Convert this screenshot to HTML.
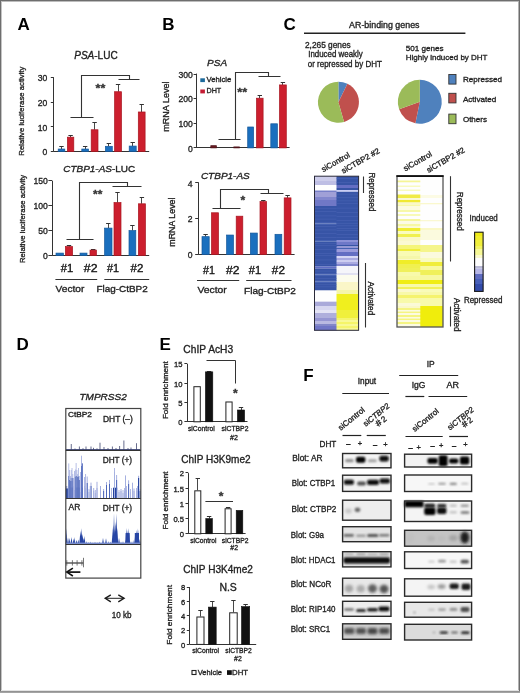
<!DOCTYPE html>
<html><head><meta charset="utf-8"><title>Figure</title>
<style>html,body{margin:0;padding:0;background:#fff;} svg{display:block;filter:blur(0.3px);} text{font-family:"Liberation Sans",Arial,sans-serif;}</style>
</head><body>
<svg width="520" height="693" viewBox="0 0 520 693">
<rect width="520" height="693" fill="#fff"/>
<text x="17.6" y="30" font-size="17" font-weight="bold" fill="#000">A</text>
<text x="162.3" y="29.8" font-size="17" font-weight="bold" fill="#000">B</text>
<text x="283.6" y="30.2" font-size="17" font-weight="bold" fill="#000">C</text>
<text x="16.5" y="350.2" font-size="17" font-weight="bold" fill="#000">D</text>
<text x="159.6" y="350.3" font-size="17" font-weight="bold" fill="#000">E</text>
<text x="303.2" y="381.2" font-size="17" font-weight="bold" fill="#000">F</text>
<text x="74.19" y="58.5" font-size="10.1" textLength="43.51" lengthAdjust="spacingAndGlyphs" fill="#222" stroke="#222" stroke-width="0.32"><tspan font-style="italic">PSA</tspan>-LUC</text>
<line x1="53.5" y1="77.4" x2="53.5" y2="151.5" stroke="#333" stroke-width="1"/>
<line x1="50.8" y1="77.5" x2="53.8" y2="77.5" stroke="#333" stroke-width="1"/>
<text x="47.35" y="81.18" font-size="8.6" text-anchor="end" fill="#222" stroke="#222" stroke-width="0.32">30</text>
<line x1="50.8" y1="102.5" x2="53.8" y2="102.5" stroke="#333" stroke-width="1"/>
<text x="47.35" y="105.88" font-size="8.6" text-anchor="end" fill="#222" stroke="#222" stroke-width="0.32">20</text>
<line x1="50.8" y1="126.5" x2="53.8" y2="126.5" stroke="#333" stroke-width="1"/>
<text x="47.35" y="130.58" font-size="8.6" text-anchor="end" fill="#222" stroke="#222" stroke-width="0.32">10</text>
<line x1="50.8" y1="151.5" x2="53.8" y2="151.5" stroke="#333" stroke-width="1"/>
<text x="47.35" y="155.28" font-size="8.6" text-anchor="end" fill="#222" stroke="#222" stroke-width="0.32">0</text>
<line x1="53.8" y1="151.5" x2="149.2" y2="151.5" stroke="#333" stroke-width="1"/>
<line x1="61.5" y1="146.56" x2="61.5" y2="149.03" stroke="#333" stroke-width="0.9"/>
<line x1="59.3" y1="146.5" x2="63.7" y2="146.5" stroke="#333" stroke-width="1.0"/>
<rect x="58.2" y="149.03" width="6.599999999999994" height="2.469999999999999" fill="#1a6fbe" stroke="#14579a" stroke-width="0.7"/>
<line x1="70.5" y1="135.198" x2="70.5" y2="137.174" stroke="#333" stroke-width="0.9"/>
<line x1="68.39999999999999" y1="135.5" x2="72.8" y2="135.5" stroke="#333" stroke-width="1.0"/>
<rect x="67.4" y="137.174" width="6.3999999999999915" height="14.325999999999993" fill="#cc1f2e" stroke="#a8141f" stroke-width="0.7"/>
<line x1="85.5" y1="146.313" x2="85.5" y2="149.03" stroke="#333" stroke-width="0.9"/>
<line x1="82.95" y1="146.5" x2="87.35000000000001" y2="146.5" stroke="#333" stroke-width="1.0"/>
<rect x="81.8" y="149.03" width="6.700000000000003" height="2.469999999999999" fill="#1a6fbe" stroke="#14579a" stroke-width="0.7"/>
<line x1="94.5" y1="122.107" x2="94.5" y2="129.764" stroke="#333" stroke-width="0.9"/>
<line x1="92.39999999999999" y1="122.5" x2="96.8" y2="122.5" stroke="#333" stroke-width="1.0"/>
<rect x="91.2" y="129.764" width="6.799999999999997" height="21.73599999999999" fill="#cc1f2e" stroke="#a8141f" stroke-width="0.7"/>
<line x1="108.5" y1="143.349" x2="108.5" y2="146.313" stroke="#333" stroke-width="0.9"/>
<line x1="106.64999999999999" y1="143.5" x2="111.05" y2="143.5" stroke="#333" stroke-width="1.0"/>
<rect x="105.4" y="146.313" width="6.8999999999999915" height="5.187000000000012" fill="#1a6fbe" stroke="#14579a" stroke-width="0.7"/>
<line x1="118.5" y1="84.56299999999999" x2="118.5" y2="91.726" stroke="#333" stroke-width="0.9"/>
<line x1="115.85" y1="84.5" x2="120.25" y2="84.5" stroke="#333" stroke-width="1.0"/>
<rect x="114.6" y="91.726" width="6.900000000000006" height="59.774" fill="#cc1f2e" stroke="#a8141f" stroke-width="0.7"/>
<line x1="132.5" y1="142.608" x2="132.5" y2="146.066" stroke="#333" stroke-width="0.9"/>
<line x1="130.5" y1="142.5" x2="134.89999999999998" y2="142.5" stroke="#333" stroke-width="1.0"/>
<rect x="129.2" y="146.066" width="7.0" height="5.4339999999999975" fill="#1a6fbe" stroke="#14579a" stroke-width="0.7"/>
<line x1="141.5" y1="104.57" x2="141.5" y2="111.97999999999999" stroke="#333" stroke-width="0.9"/>
<line x1="139.5" y1="104.5" x2="143.89999999999998" y2="104.5" stroke="#333" stroke-width="1.0"/>
<rect x="138.3" y="111.97999999999999" width="6.799999999999983" height="39.52000000000001" fill="#cc1f2e" stroke="#a8141f" stroke-width="0.7"/>
<path d="M70.5,117.5 H93.5 M81.5,117.5 V75.5 H129.5 V79.5 M118.5,79.5 H139.5" stroke="#333" stroke-width="1.1" fill="none"/>
<text x="95.54" y="91.6" font-size="11" textLength="9.72" lengthAdjust="spacingAndGlyphs" fill="#333" stroke="#333" stroke-width="0.32" font-weight="bold">**</text>
<text transform="translate(24.30,155.67) rotate(-90)" font-size="7.8" textLength="89.04" lengthAdjust="spacingAndGlyphs" fill="#222" stroke="#222" stroke-width="0.32">Relative luciferase activity</text>
<text x="63.22" y="171.5" font-size="9.6" textLength="71.95" lengthAdjust="spacingAndGlyphs" fill="#222" stroke="#222" stroke-width="0.32"><tspan font-style="italic">CTBP1-AS</tspan>-LUC</text>
<line x1="52.5" y1="180.8" x2="52.5" y2="255.6" stroke="#333" stroke-width="1"/>
<line x1="48.400000000000006" y1="180.5" x2="52.2" y2="180.5" stroke="#333" stroke-width="1"/>
<text x="47.75" y="184.38" font-size="8.6" text-anchor="end" fill="#222" stroke="#222" stroke-width="0.32">150</text>
<line x1="48.400000000000006" y1="205.5" x2="52.2" y2="205.5" stroke="#333" stroke-width="1"/>
<text x="47.75" y="209.38" font-size="8.6" text-anchor="end" fill="#222" stroke="#222" stroke-width="0.32">100</text>
<line x1="48.400000000000006" y1="230.5" x2="52.2" y2="230.5" stroke="#333" stroke-width="1"/>
<text x="47.75" y="234.38" font-size="8.6" text-anchor="end" fill="#222" stroke="#222" stroke-width="0.32">50</text>
<line x1="48.400000000000006" y1="255.5" x2="52.2" y2="255.5" stroke="#333" stroke-width="1"/>
<text x="47.75" y="259.38" font-size="8.6" text-anchor="end" fill="#222" stroke="#222" stroke-width="0.32">0</text>
<line x1="52.2" y1="255.5" x2="149.2" y2="255.5" stroke="#333" stroke-width="1"/>
<rect x="56" y="253.1" width="7.399999999999999" height="2.5" fill="#1a6fbe" stroke="#14579a" stroke-width="0.7"/>
<line x1="69.5" y1="245.6" x2="69.5" y2="246.6" stroke="#333" stroke-width="0.9"/>
<line x1="66.8" y1="245.5" x2="71.2" y2="245.5" stroke="#333" stroke-width="1.0"/>
<rect x="65.4" y="246.6" width="7.199999999999989" height="9.0" fill="#cc1f2e" stroke="#a8141f" stroke-width="0.7"/>
<rect x="80" y="253.1" width="7" height="2.5" fill="#1a6fbe" stroke="#14579a" stroke-width="0.7"/>
<line x1="93.5" y1="249.1" x2="93.5" y2="250.1" stroke="#333" stroke-width="0.9"/>
<line x1="91.0" y1="249.5" x2="95.4" y2="249.5" stroke="#333" stroke-width="1.0"/>
<rect x="90" y="250.1" width="6.400000000000006" height="5.5" fill="#cc1f2e" stroke="#a8141f" stroke-width="0.7"/>
<line x1="108.5" y1="223.1" x2="108.5" y2="228.1" stroke="#333" stroke-width="0.9"/>
<line x1="106.1" y1="223.5" x2="110.5" y2="223.5" stroke="#333" stroke-width="1.0"/>
<rect x="104.6" y="228.1" width="7.400000000000006" height="27.5" fill="#1a6fbe" stroke="#14579a" stroke-width="0.7"/>
<line x1="117.5" y1="192.6" x2="117.5" y2="202.6" stroke="#333" stroke-width="0.9"/>
<line x1="115.3" y1="192.5" x2="119.7" y2="192.5" stroke="#333" stroke-width="1.0"/>
<rect x="114" y="202.6" width="7" height="53.0" fill="#cc1f2e" stroke="#a8141f" stroke-width="0.7"/>
<line x1="132.5" y1="225.1" x2="132.5" y2="230.6" stroke="#333" stroke-width="0.9"/>
<line x1="130.20000000000002" y1="225.5" x2="134.6" y2="225.5" stroke="#333" stroke-width="1.0"/>
<rect x="129" y="230.6" width="6.800000000000011" height="25.0" fill="#1a6fbe" stroke="#14579a" stroke-width="0.7"/>
<line x1="141.5" y1="197.1" x2="141.5" y2="203.8" stroke="#333" stroke-width="0.9"/>
<line x1="139.70000000000002" y1="197.5" x2="144.1" y2="197.5" stroke="#333" stroke-width="1.0"/>
<rect x="138.4" y="203.8" width="7.0" height="51.79999999999998" fill="#cc1f2e" stroke="#a8141f" stroke-width="0.7"/>
<path d="M66.5,239.5 H93.5 M79.5,239.5 V182.5 H127.5 V186.5 M112.5,186.5 H141.5" stroke="#333" stroke-width="1.1" fill="none"/>
<text x="93.14" y="197.8" font-size="11" textLength="9.32" lengthAdjust="spacingAndGlyphs" fill="#333" stroke="#333" stroke-width="0.32" font-weight="bold">**</text>
<text transform="translate(24.50,263.07) rotate(-90)" font-size="7.8" textLength="88.24" lengthAdjust="spacingAndGlyphs" fill="#222" stroke="#222" stroke-width="0.32">Relative luciferase activity</text>
<text x="60.87" y="272.3" font-size="10.5" textLength="12.46" lengthAdjust="spacingAndGlyphs" fill="#111" stroke="#111" stroke-width="0.32">#1</text>
<text x="83.87" y="272.3" font-size="10.5" textLength="13.66" lengthAdjust="spacingAndGlyphs" fill="#111" stroke="#111" stroke-width="0.32">#2</text>
<text x="107.07" y="272.3" font-size="10.5" textLength="12.06" lengthAdjust="spacingAndGlyphs" fill="#111" stroke="#111" stroke-width="0.32">#1</text>
<text x="130.57" y="272.3" font-size="10.5" textLength="12.76" lengthAdjust="spacingAndGlyphs" fill="#111" stroke="#111" stroke-width="0.32">#2</text>
<line x1="55.4" y1="279.5" x2="97.2" y2="279.5" stroke="#333" stroke-width="1.1"/>
<line x1="104.3" y1="279.5" x2="149.2" y2="279.5" stroke="#333" stroke-width="1.1"/>
<text x="55.62" y="292.2" font-size="9.6" textLength="28.75" lengthAdjust="spacingAndGlyphs" fill="#222" stroke="#222" stroke-width="0.32">Vector</text>
<text x="96.42" y="292.3" font-size="9.6" textLength="51.35" lengthAdjust="spacingAndGlyphs" fill="#222" stroke="#222" stroke-width="0.32">Flag-CtBP2</text>
<text x="207.11" y="65.7" font-size="9.8" textLength="19.98" lengthAdjust="spacingAndGlyphs" fill="#222" stroke="#222" stroke-width="0.32" font-style="italic">PSA</text>
<line x1="196.5" y1="73.6" x2="196.5" y2="147.9" stroke="#333" stroke-width="1"/>
<line x1="193.6" y1="74.5" x2="196.9" y2="74.5" stroke="#333" stroke-width="1"/>
<text x="192.85" y="77.88" font-size="8.6" text-anchor="end" fill="#222" stroke="#222" stroke-width="0.32">300</text>
<line x1="193.6" y1="98.5" x2="196.9" y2="98.5" stroke="#333" stroke-width="1"/>
<text x="192.85" y="102.48" font-size="8.6" text-anchor="end" fill="#222" stroke="#222" stroke-width="0.32">200</text>
<line x1="193.6" y1="123.5" x2="196.9" y2="123.5" stroke="#333" stroke-width="1"/>
<text x="192.85" y="127.08" font-size="8.6" text-anchor="end" fill="#222" stroke="#222" stroke-width="0.32">100</text>
<line x1="193.6" y1="147.5" x2="196.9" y2="147.5" stroke="#333" stroke-width="1"/>
<text x="192.85" y="151.68" font-size="8.6" text-anchor="end" fill="#222" stroke="#222" stroke-width="0.32">0</text>
<line x1="196.8" y1="147.5" x2="289.6" y2="147.5" stroke="#333" stroke-width="1"/>
<rect x="200.3" y="78.3" width="4.6" height="3.8" fill="#1c6a9c"/>
<text x="206.46" y="82.4" font-size="7.4" textLength="24.79" lengthAdjust="spacingAndGlyphs" fill="#222" stroke="#222" stroke-width="0.32">Vehicle</text>
<rect x="200.3" y="89.5" width="4.6" height="3.9" fill="#c41c34"/>
<text x="206.46" y="93.4" font-size="7.4" textLength="14.79" lengthAdjust="spacingAndGlyphs" fill="#222" stroke="#222" stroke-width="0.32">DHT</text>
<rect x="210.8" y="145.686" width="5.599999999999994" height="2.2139999999999986" fill="#6a1a22" stroke="#4a1015" stroke-width="0.7"/>
<rect x="233.8" y="146.916" width="5.599999999999994" height="0.9840000000000089" fill="#6a1a22" stroke="#4a1015" stroke-width="0.7"/>
<rect x="247.7" y="126.99000000000001" width="5.900000000000006" height="20.909999999999997" fill="#1a6fbe" stroke="#14579a" stroke-width="0.7"/>
<line x1="259.5" y1="95.994" x2="259.5" y2="98.208" stroke="#333" stroke-width="0.9"/>
<line x1="257.6" y1="95.5" x2="262.0" y2="95.5" stroke="#333" stroke-width="1.0"/>
<rect x="256.5" y="98.208" width="6.600000000000023" height="49.69200000000001" fill="#cc1f2e" stroke="#a8141f" stroke-width="0.7"/>
<rect x="270.8" y="123.792" width="6.599999999999966" height="24.108000000000004" fill="#1a6fbe" stroke="#14579a" stroke-width="0.7"/>
<line x1="282.5" y1="82.71" x2="282.5" y2="84.924" stroke="#333" stroke-width="0.9"/>
<line x1="280.7" y1="82.5" x2="285.09999999999997" y2="82.5" stroke="#333" stroke-width="1.0"/>
<rect x="279.5" y="84.924" width="6.800000000000011" height="62.976" fill="#cc1f2e" stroke="#a8141f" stroke-width="0.7"/>
<path d="M218.5,139.5 H240.5 M235.5,139.5 V72.5 H268.5 V76.5 M258.5,76.5 H280.5" stroke="#333" stroke-width="1.1" fill="none"/>
<text x="237.34" y="96.3" font-size="11" textLength="9.92" lengthAdjust="spacingAndGlyphs" fill="#333" stroke="#333" stroke-width="0.32" font-weight="bold">**</text>
<text transform="translate(169.00,131.70) rotate(-90)" font-size="8.4" textLength="50.21" lengthAdjust="spacingAndGlyphs" fill="#222" stroke="#222" stroke-width="0.32">mRNA Level</text>
<text x="200.92" y="179.4" font-size="9.6" textLength="48.85" lengthAdjust="spacingAndGlyphs" fill="#222" stroke="#222" stroke-width="0.32" font-style="italic">CTBP1-AS</text>
<line x1="198.5" y1="182.8" x2="198.5" y2="254.6" stroke="#333" stroke-width="1"/>
<line x1="195.20000000000002" y1="182.5" x2="198.8" y2="182.5" stroke="#333" stroke-width="1"/>
<text x="192.55" y="186.58" font-size="8.6" text-anchor="end" fill="#222" stroke="#222" stroke-width="0.32">4</text>
<line x1="195.20000000000002" y1="218.5" x2="198.8" y2="218.5" stroke="#333" stroke-width="1"/>
<text x="192.55" y="222.48" font-size="8.6" text-anchor="end" fill="#222" stroke="#222" stroke-width="0.32">2</text>
<line x1="195.20000000000002" y1="254.5" x2="198.8" y2="254.5" stroke="#333" stroke-width="1"/>
<text x="192.55" y="258.38" font-size="8.6" text-anchor="end" fill="#222" stroke="#222" stroke-width="0.32">0</text>
<line x1="198.8" y1="254.5" x2="294.6" y2="254.5" stroke="#333" stroke-width="1"/>
<line x1="205.5" y1="234.855" x2="205.5" y2="236.65" stroke="#333" stroke-width="0.9"/>
<line x1="203.4" y1="234.5" x2="207.79999999999998" y2="234.5" stroke="#333" stroke-width="1.0"/>
<rect x="202" y="236.65" width="7.199999999999989" height="17.94999999999999" fill="#1a6fbe" stroke="#14579a" stroke-width="0.7"/>
<rect x="211.5" y="212.7765" width="7.0" height="41.823499999999996" fill="#cc1f2e" stroke="#a8141f" stroke-width="0.7"/>
<rect x="226.6" y="235.03449999999998" width="6.900000000000006" height="19.565500000000014" fill="#1a6fbe" stroke="#14579a" stroke-width="0.7"/>
<rect x="236.2" y="216.18699999999998" width="6.600000000000023" height="38.41300000000001" fill="#cc1f2e" stroke="#a8141f" stroke-width="0.7"/>
<rect x="250.4" y="233.06" width="6.900000000000006" height="21.539999999999992" fill="#1a6fbe" stroke="#14579a" stroke-width="0.7"/>
<line x1="263.5" y1="200.75" x2="263.5" y2="201.64749999999998" stroke="#333" stroke-width="0.9"/>
<line x1="261.1" y1="200.5" x2="265.5" y2="200.5" stroke="#333" stroke-width="1.0"/>
<rect x="260" y="201.64749999999998" width="6.600000000000023" height="52.952500000000015" fill="#cc1f2e" stroke="#a8141f" stroke-width="0.7"/>
<rect x="275" y="234.3165" width="6.800000000000011" height="20.283500000000004" fill="#1a6fbe" stroke="#14579a" stroke-width="0.7"/>
<line x1="287.5" y1="195.365" x2="287.5" y2="197.878" stroke="#333" stroke-width="0.9"/>
<line x1="285.40000000000003" y1="195.5" x2="289.8" y2="195.5" stroke="#333" stroke-width="1.0"/>
<rect x="284.2" y="197.878" width="6.800000000000011" height="56.72200000000001" fill="#cc1f2e" stroke="#a8141f" stroke-width="0.7"/>
<path d="M212.5,208.5 H240.5 M220.5,208.5 V189.5 H268.5 V193.5 M260.5,193.5 H283.5" stroke="#333" stroke-width="1.1" fill="none"/>
<text x="240.54" y="203.9" font-size="11" textLength="4.72" lengthAdjust="spacingAndGlyphs" fill="#333" stroke="#333" stroke-width="0.32" font-weight="bold">*</text>
<text transform="translate(175.30,246.69) rotate(-90)" font-size="8.2" textLength="49.18" lengthAdjust="spacingAndGlyphs" fill="#222" stroke="#222" stroke-width="0.32">mRNA Level</text>
<text x="203.07" y="273.5" font-size="10.5" textLength="11.86" lengthAdjust="spacingAndGlyphs" fill="#111" stroke="#111" stroke-width="0.32">#1</text>
<text x="226.07" y="273.5" font-size="10.5" textLength="13.46" lengthAdjust="spacingAndGlyphs" fill="#111" stroke="#111" stroke-width="0.32">#2</text>
<text x="248.87" y="273.5" font-size="10.5" textLength="12.26" lengthAdjust="spacingAndGlyphs" fill="#111" stroke="#111" stroke-width="0.32">#1</text>
<text x="271.87" y="273.5" font-size="10.5" textLength="13.06" lengthAdjust="spacingAndGlyphs" fill="#111" stroke="#111" stroke-width="0.32">#2</text>
<line x1="197" y1="280.5" x2="239.2" y2="280.5" stroke="#333" stroke-width="1.1"/>
<line x1="246.2" y1="280.5" x2="291.5" y2="280.5" stroke="#333" stroke-width="1.1"/>
<text x="197.42" y="293.2" font-size="9.6" textLength="29.35" lengthAdjust="spacingAndGlyphs" fill="#222" stroke="#222" stroke-width="0.32">Vector</text>
<text x="244.02" y="293.6" font-size="9.6" textLength="51.95" lengthAdjust="spacingAndGlyphs" fill="#222" stroke="#222" stroke-width="0.32">Flag-CtBP2</text>
<text x="349.09" y="27.8" font-size="8.5" textLength="70.42" lengthAdjust="spacingAndGlyphs" fill="#222" stroke="#222" stroke-width="0.32">AR-binding genes</text>
<line x1="304" y1="33.2" x2="465.4" y2="33.2" stroke="#222" stroke-width="1.4"/>
<text x="305.00" y="47.6" font-size="8.3" textLength="45.70" lengthAdjust="spacingAndGlyphs" fill="#222" stroke="#222" stroke-width="0.32">2,265 genes</text>
<text x="308.20" y="57.1" font-size="8.3" textLength="54.60" lengthAdjust="spacingAndGlyphs" fill="#222" stroke="#222" stroke-width="0.32">Induced weakly</text>
<text x="307.80" y="66.5" font-size="8.3" textLength="74.00" lengthAdjust="spacingAndGlyphs" fill="#222" stroke="#222" stroke-width="0.32">or repressed by DHT</text>
<text x="405.72" y="50.8" font-size="8" textLength="37.76" lengthAdjust="spacingAndGlyphs" fill="#222" stroke="#222" stroke-width="0.32">501 genes</text>
<text x="405.72" y="60.0" font-size="8" textLength="81.76" lengthAdjust="spacingAndGlyphs" fill="#222" stroke="#222" stroke-width="0.32">Highly induced by DHT</text>
<path d="M338.4,102.2 L338.40,81.70 A20.5,20.5 0 0 1 347.39,83.77 Z" fill="#4f81bd"/>
<path d="M338.4,102.2 L347.39,83.77 A20.5,20.5 0 0 1 344.05,121.91 Z" fill="#c0504d"/>
<path d="M338.4,102.2 L344.05,121.91 A20.5,20.5 0 1 1 338.40,81.70 Z" fill="#9bbb59"/>
<path d="M419.8,101.8 L419.80,79.80 A22,22 0 1 1 415.41,123.36 Z" fill="#4f81bd"/>
<path d="M419.8,101.8 L415.41,123.36 A22,22 0 0 1 399.13,109.32 Z" fill="#c0504d"/>
<path d="M419.8,101.8 L399.13,109.32 A22,22 0 0 1 419.80,79.80 Z" fill="#9bbb59"/>
<rect x="448.8" y="74.5" width="7.2" height="9.6" fill="#4f81bd" stroke="#333" stroke-width="0.9"/>
<text x="462.92" y="82.3" font-size="8" textLength="39.06" lengthAdjust="spacingAndGlyphs" fill="#222" stroke="#222" stroke-width="0.32">Repressed</text>
<rect x="448.8" y="93.3" width="7.2" height="9.6" fill="#c0504d" stroke="#333" stroke-width="0.9"/>
<text x="462.92" y="102.3" font-size="8" textLength="33.26" lengthAdjust="spacingAndGlyphs" fill="#222" stroke="#222" stroke-width="0.32">Activated</text>
<rect x="448.8" y="114.1" width="7.2" height="9.6" fill="#9bbb59" stroke="#333" stroke-width="0.9"/>
<text x="462.92" y="122.3" font-size="8" textLength="24.06" lengthAdjust="spacingAndGlyphs" fill="#222" stroke="#222" stroke-width="0.32">Others</text>
<rect x="314.5" y="176.2" width="22.70" height="4.85" fill="#cdcdeb"/>
<rect x="314.5" y="181" width="22.70" height="4.05" fill="#bebee4"/>
<rect x="314.5" y="185" width="22.70" height="5.55" fill="#fefefe"/>
<rect x="314.5" y="190.5" width="22.70" height="1.55" fill="#7880c8"/>
<rect x="314.5" y="192" width="22.70" height="5.05" fill="#a0a0d7"/>
<rect x="314.5" y="197" width="22.70" height="3.05" fill="#8287cd"/>
<rect x="314.5" y="200" width="22.70" height="6.05" fill="#7078c6"/>
<rect x="314.5" y="206" width="22.70" height="17.55" fill="#3754a6"/>
<rect x="314.5" y="223.5" width="22.70" height="1.55" fill="#4662b2"/>
<rect x="314.5" y="225" width="22.70" height="15.05" fill="#3754a6"/>
<rect x="314.5" y="240" width="22.70" height="1.55" fill="#4662b2"/>
<rect x="314.5" y="241.5" width="22.70" height="25.05" fill="#3754a6"/>
<rect x="314.5" y="266.5" width="22.70" height="2.05" fill="#5f6cc3"/>
<rect x="314.5" y="268.5" width="22.70" height="6.05" fill="#3754a6"/>
<rect x="314.5" y="274.5" width="22.70" height="1.55" fill="#4662b2"/>
<rect x="314.5" y="276" width="22.70" height="5.55" fill="#3754a6"/>
<rect x="314.5" y="281.5" width="22.70" height="1.55" fill="#4662b2"/>
<rect x="314.5" y="283" width="22.70" height="7.55" fill="#3754a6"/>
<rect x="314.5" y="290.5" width="22.70" height="10.55" fill="#fefefe"/>
<rect x="314.5" y="301" width="22.70" height="1.05" fill="#e1e1f2"/>
<rect x="314.5" y="302" width="22.70" height="4.05" fill="#aaaada"/>
<rect x="314.5" y="306" width="22.70" height="4.05" fill="#d7d7f0"/>
<rect x="314.5" y="310" width="22.70" height="3.05" fill="#e4e4f5"/>
<rect x="314.5" y="313" width="22.70" height="5.05" fill="#afafdc"/>
<rect x="314.5" y="318" width="22.70" height="3.05" fill="#9696d2"/>
<rect x="314.5" y="321" width="22.70" height="3.05" fill="#b9b9e1"/>
<rect x="314.5" y="324" width="22.70" height="2.05" fill="#8287c8"/>
<rect x="314.5" y="326" width="22.70" height="4.35" fill="#7076c6"/>
<rect x="336.5" y="176.2" width="22.10" height="8.85" fill="#3754a6"/>
<rect x="336.5" y="185" width="22.10" height="3.05" fill="#646ec3"/>
<rect x="336.5" y="188" width="22.10" height="2.05" fill="#3754a6"/>
<rect x="336.5" y="190" width="22.10" height="1.85" fill="#c8cdf5"/>
<rect x="336.5" y="191.8" width="22.10" height="48.25" fill="#3754a6"/>
<rect x="336.5" y="240" width="22.10" height="2.05" fill="#8c91d7"/>
<rect x="336.5" y="242" width="22.10" height="3.05" fill="#6e78c8"/>
<rect x="336.5" y="245" width="22.10" height="1.55" fill="#3754a6"/>
<rect x="336.5" y="246.5" width="22.10" height="1.55" fill="#9696d7"/>
<rect x="336.5" y="248" width="22.10" height="1.05" fill="#4662b2"/>
<rect x="336.5" y="249" width="22.10" height="3.05" fill="#9b9bdc"/>
<rect x="336.5" y="252" width="22.10" height="4.05" fill="#646ec3"/>
<rect x="336.5" y="256" width="22.10" height="2.05" fill="#d7d7f5"/>
<rect x="336.5" y="258" width="22.10" height="2.05" fill="#aaaae1"/>
<rect x="336.5" y="260" width="22.10" height="2.05" fill="#cdcdf0"/>
<rect x="336.5" y="262" width="22.10" height="2.05" fill="#aaaae1"/>
<rect x="336.5" y="264" width="22.10" height="2.05" fill="#8287cd"/>
<rect x="336.5" y="266" width="22.10" height="7.05" fill="#f5f5fa"/>
<rect x="336.5" y="273" width="22.10" height="2.05" fill="#e1e1f2"/>
<rect x="336.5" y="275" width="22.10" height="7.05" fill="#fcfcee"/>
<rect x="336.5" y="282" width="22.10" height="8.05" fill="#faf6c8"/>
<rect x="336.5" y="290" width="22.10" height="4.05" fill="#f5f5aa"/>
<rect x="336.5" y="294" width="22.10" height="16.05" fill="#f0ef1e"/>
<rect x="336.5" y="310" width="22.10" height="8.05" fill="#f0f03c"/>
<rect x="336.5" y="318" width="22.10" height="2.05" fill="#f5f56e"/>
<rect x="336.5" y="320" width="22.10" height="2.05" fill="#f8f996"/>
<rect x="336.5" y="322" width="22.10" height="2.05" fill="#f5f569"/>
<rect x="336.5" y="324" width="22.10" height="2.05" fill="#f8f996"/>
<rect x="336.5" y="326" width="22.10" height="2.05" fill="#f5f56e"/>
<rect x="336.5" y="328" width="22.10" height="2.35" fill="#f8f996"/>
<rect x="314.5" y="207.90" width="22.00" height="0.6" fill="#4e68b8" opacity="0.8"/>
<rect x="314.5" y="211.30" width="22.00" height="0.6" fill="#4e68b8" opacity="0.8"/>
<rect x="314.5" y="215.61" width="22.00" height="0.6" fill="#4e68b8" opacity="0.8"/>
<rect x="314.5" y="218.78" width="22.00" height="0.6" fill="#4e68b8" opacity="0.8"/>
<rect x="314.5" y="222.05" width="22.00" height="0.6" fill="#4e68b8" opacity="0.8"/>
<rect x="314.5" y="226.37" width="22.00" height="0.6" fill="#4e68b8" opacity="0.8"/>
<rect x="314.5" y="229.65" width="22.00" height="0.6" fill="#4e68b8" opacity="0.8"/>
<rect x="314.5" y="233.22" width="22.00" height="0.6" fill="#4e68b8" opacity="0.8"/>
<rect x="314.5" y="237.21" width="22.00" height="0.6" fill="#4e68b8" opacity="0.8"/>
<rect x="314.5" y="243.11" width="22.00" height="0.6" fill="#4e68b8" opacity="0.8"/>
<rect x="314.5" y="245.33" width="22.00" height="0.6" fill="#4e68b8" opacity="0.8"/>
<rect x="314.5" y="249.36" width="22.00" height="0.6" fill="#4e68b8" opacity="0.8"/>
<rect x="314.5" y="253.09" width="22.00" height="0.6" fill="#4e68b8" opacity="0.8"/>
<rect x="314.5" y="255.20" width="22.00" height="0.6" fill="#4e68b8" opacity="0.8"/>
<rect x="314.5" y="259.65" width="22.00" height="0.6" fill="#4e68b8" opacity="0.8"/>
<rect x="314.5" y="264.06" width="22.00" height="0.6" fill="#4e68b8" opacity="0.8"/>
<rect x="314.5" y="270.73" width="22.00" height="0.6" fill="#4e68b8" opacity="0.8"/>
<rect x="314.5" y="273.12" width="22.00" height="0.6" fill="#4e68b8" opacity="0.8"/>
<rect x="314.5" y="278.06" width="22.00" height="0.6" fill="#4e68b8" opacity="0.8"/>
<rect x="314.5" y="280.21" width="22.00" height="0.6" fill="#4e68b8" opacity="0.8"/>
<rect x="314.5" y="284.48" width="22.00" height="0.6" fill="#4e68b8" opacity="0.8"/>
<rect x="314.5" y="286.56" width="22.00" height="0.6" fill="#4e68b8" opacity="0.8"/>
<rect x="336.5" y="178.08" width="22.10" height="0.6" fill="#4e68b8" opacity="0.8"/>
<rect x="336.5" y="182.19" width="22.10" height="0.6" fill="#4e68b8" opacity="0.8"/>
<rect x="336.5" y="193.80" width="22.10" height="0.6" fill="#4e68b8" opacity="0.8"/>
<rect x="336.5" y="197.46" width="22.10" height="0.6" fill="#4e68b8" opacity="0.8"/>
<rect x="336.5" y="200.60" width="22.10" height="0.6" fill="#4e68b8" opacity="0.8"/>
<rect x="336.5" y="203.29" width="22.10" height="0.6" fill="#4e68b8" opacity="0.8"/>
<rect x="336.5" y="207.79" width="22.10" height="0.6" fill="#4e68b8" opacity="0.8"/>
<rect x="336.5" y="212.28" width="22.10" height="0.6" fill="#4e68b8" opacity="0.8"/>
<rect x="336.5" y="216.38" width="22.10" height="0.6" fill="#4e68b8" opacity="0.8"/>
<rect x="336.5" y="220.15" width="22.10" height="0.6" fill="#4e68b8" opacity="0.8"/>
<rect x="336.5" y="222.94" width="22.10" height="0.6" fill="#4e68b8" opacity="0.8"/>
<rect x="336.5" y="225.51" width="22.10" height="0.6" fill="#4e68b8" opacity="0.8"/>
<rect x="336.5" y="228.23" width="22.10" height="0.6" fill="#4e68b8" opacity="0.8"/>
<rect x="336.5" y="230.41" width="22.10" height="0.6" fill="#4e68b8" opacity="0.8"/>
<rect x="336.5" y="234.32" width="22.10" height="0.6" fill="#4e68b8" opacity="0.8"/>
<rect x="336.5" y="237.33" width="22.10" height="0.6" fill="#4e68b8" opacity="0.8"/>
<rect x="314.5" y="176.2" width="44.1" height="154.1" fill="none" stroke="#2a2a3a" stroke-width="1.0"/>
<rect x="397" y="175.8" width="24.00" height="4.75" fill="#fefefe"/>
<rect x="397" y="180.5" width="24.00" height="2.05" fill="#f5f596"/>
<rect x="397" y="182.5" width="24.00" height="3.05" fill="#fefefe"/>
<rect x="397" y="185.5" width="24.00" height="1.55" fill="#f8fabe"/>
<rect x="397" y="187" width="24.00" height="2.55" fill="#fefefe"/>
<rect x="397" y="189.5" width="24.00" height="1.55" fill="#f8fabe"/>
<rect x="397" y="191" width="24.00" height="3.55" fill="#fefefe"/>
<rect x="397" y="194.5" width="24.00" height="3.55" fill="#f0eb46"/>
<rect x="397" y="198" width="24.00" height="2.05" fill="#faf8d2"/>
<rect x="397" y="200" width="24.00" height="2.55" fill="#f0e932"/>
<rect x="397" y="202.5" width="24.00" height="2.05" fill="#faf8c8"/>
<rect x="397" y="204.5" width="24.00" height="1.55" fill="#f7f8aa"/>
<rect x="397" y="206" width="24.00" height="4.05" fill="#fcfbe1"/>
<rect x="397" y="210" width="24.00" height="2.05" fill="#f7f8aa"/>
<rect x="397" y="212" width="24.00" height="2.05" fill="#fefefe"/>
<rect x="397" y="214" width="24.00" height="2.05" fill="#f8fab9"/>
<rect x="397" y="216" width="24.00" height="3.05" fill="#fefefe"/>
<rect x="397" y="219" width="24.00" height="2.05" fill="#f5f5a0"/>
<rect x="397" y="221" width="24.00" height="3.05" fill="#fcfbe6"/>
<rect x="397" y="224" width="24.00" height="2.55" fill="#f7f8a5"/>
<rect x="397" y="226.5" width="24.00" height="1.55" fill="#fcfad7"/>
<rect x="397" y="228" width="24.00" height="3.05" fill="#f0ed32"/>
<rect x="397" y="231" width="24.00" height="3.05" fill="#fafcbe"/>
<rect x="397" y="234" width="24.00" height="3.05" fill="#f0f050"/>
<rect x="397" y="237" width="24.00" height="4.05" fill="#faf8c8"/>
<rect x="397" y="241" width="24.00" height="4.05" fill="#fbf9d2"/>
<rect x="397" y="245" width="24.00" height="4.05" fill="#f5f578"/>
<rect x="397" y="249" width="24.00" height="2.05" fill="#f0ed3c"/>
<rect x="397" y="251" width="24.00" height="5.05" fill="#f9fbb4"/>
<rect x="397" y="256" width="24.00" height="3.05" fill="#f5f7aa"/>
<rect x="397" y="259" width="24.00" height="1.05" fill="#faf8c8"/>
<rect x="397" y="260" width="24.00" height="4.05" fill="#f0ed28"/>
<rect x="397" y="264" width="24.00" height="4.05" fill="#f0f050"/>
<rect x="397" y="268" width="24.00" height="4.05" fill="#f0f05a"/>
<rect x="397" y="272" width="24.00" height="4.05" fill="#f8faaa"/>
<rect x="397" y="276" width="24.00" height="4.05" fill="#f7f8a0"/>
<rect x="397" y="280" width="24.00" height="4.05" fill="#f0ed14"/>
<rect x="397" y="284" width="24.00" height="3.05" fill="#f8faaa"/>
<rect x="397" y="287" width="24.00" height="2.05" fill="#f2f15a"/>
<rect x="397" y="289" width="24.00" height="3.05" fill="#fbf9cd"/>
<rect x="397" y="292" width="24.00" height="3.05" fill="#f8f9aa"/>
<rect x="397" y="295" width="24.00" height="3.05" fill="#f5f36e"/>
<rect x="397" y="298" width="24.00" height="5.05" fill="#f8faaa"/>
<rect x="397" y="303" width="24.00" height="3.05" fill="#fbfad7"/>
<rect x="397" y="306" width="24.00" height="2.05" fill="#faf8c8"/>
<rect x="397" y="308" width="24.00" height="2.05" fill="#f5f582"/>
<rect x="397" y="310" width="24.00" height="1.55" fill="#fcfbe1"/>
<rect x="397" y="311.5" width="24.00" height="1.55" fill="#f5f582"/>
<rect x="397" y="313" width="24.00" height="2.05" fill="#fcfbe1"/>
<rect x="397" y="315" width="24.00" height="2.05" fill="#f5f582"/>
<rect x="397" y="317" width="24.00" height="1.55" fill="#fcfbe1"/>
<rect x="397" y="318.5" width="24.00" height="1.55" fill="#f5f582"/>
<rect x="397" y="320" width="24.00" height="2.05" fill="#fcfbe1"/>
<rect x="397" y="322" width="24.00" height="2.05" fill="#f5f582"/>
<rect x="397" y="324" width="24.00" height="3.05" fill="#fcfbe1"/>
<rect x="420.3" y="175.8" width="22.70" height="19.25" fill="#fefefe"/>
<rect x="420.3" y="195" width="22.70" height="3.05" fill="#fcfbe4"/>
<rect x="420.3" y="198" width="22.70" height="5.05" fill="#fefefe"/>
<rect x="420.3" y="203" width="22.70" height="1.55" fill="#faf8cd"/>
<rect x="420.3" y="204.5" width="22.70" height="15.55" fill="#fefefe"/>
<rect x="420.3" y="220" width="22.70" height="1.55" fill="#faf8d2"/>
<rect x="420.3" y="221.5" width="22.70" height="6.55" fill="#fefefe"/>
<rect x="420.3" y="228" width="22.70" height="2.05" fill="#faf8c8"/>
<rect x="420.3" y="230" width="22.70" height="10.05" fill="#fbfade"/>
<rect x="420.3" y="240" width="22.70" height="5.05" fill="#fefefe"/>
<rect x="420.3" y="245" width="22.70" height="7.05" fill="#f5f58c"/>
<rect x="420.3" y="252" width="22.70" height="6.05" fill="#fbfade"/>
<rect x="420.3" y="258" width="22.70" height="4.05" fill="#f9fbbe"/>
<rect x="420.3" y="262" width="22.70" height="4.05" fill="#f0ed3c"/>
<rect x="420.3" y="266" width="22.70" height="4.05" fill="#f8f9a0"/>
<rect x="420.3" y="270" width="22.70" height="5.05" fill="#f0f05a"/>
<rect x="420.3" y="275" width="22.70" height="5.05" fill="#f7f8a0"/>
<rect x="420.3" y="280" width="22.70" height="4.05" fill="#f0ed14"/>
<rect x="420.3" y="284" width="22.70" height="3.05" fill="#f8faaa"/>
<rect x="420.3" y="287" width="22.70" height="2.05" fill="#f2f15a"/>
<rect x="420.3" y="289" width="22.70" height="3.05" fill="#f9fbb9"/>
<rect x="420.3" y="292" width="22.70" height="3.05" fill="#f8f9aa"/>
<rect x="420.3" y="295" width="22.70" height="3.05" fill="#f5f36e"/>
<rect x="420.3" y="298" width="22.70" height="8.05" fill="#f8faaa"/>
<rect x="420.3" y="306" width="22.70" height="21.05" fill="#f0ed0c"/>
<rect x="397" y="175.8" width="46" height="151.2" fill="none" stroke="#555" stroke-width="1.3"/>
<line x1="396.4" y1="176.2" x2="443.6" y2="176.2" stroke="#111" stroke-width="1.8"/>
<text transform="translate(323.3,172.3) rotate(-30)" font-size="8" fill="#222" stroke="#222" stroke-width="0.32">siControl</text>
<text transform="translate(343.3,173.8) rotate(-30)" font-size="8" fill="#222" stroke="#222" stroke-width="0.32">siCTBP2 #2</text>
<text transform="translate(405.3,171.5) rotate(-30)" font-size="8" fill="#222" stroke="#222" stroke-width="0.32">siControl</text>
<text transform="translate(428.4,173.0) rotate(-30)" font-size="8" fill="#222" stroke="#222" stroke-width="0.32">siCTBP2 #2</text>
<line x1="363.5" y1="176.5" x2="363.5" y2="193" stroke="#333" stroke-width="1.1"/>
<text transform="translate(369.00,172.51) rotate(90)" font-size="8.2" textLength="38.88" lengthAdjust="spacingAndGlyphs" fill="#222" stroke="#222" stroke-width="0.32">Repressed</text>
<line x1="365.5" y1="263" x2="365.5" y2="327.5" stroke="#333" stroke-width="1.1"/>
<text transform="translate(368.10,281.61) rotate(90)" font-size="8.2" textLength="33.58" lengthAdjust="spacingAndGlyphs" fill="#222" stroke="#222" stroke-width="0.32">Activated</text>
<line x1="450.5" y1="176.2" x2="450.5" y2="261.5" stroke="#333" stroke-width="1.1"/>
<text transform="translate(456.80,191.81) rotate(90)" font-size="8.2" textLength="38.98" lengthAdjust="spacingAndGlyphs" fill="#222" stroke="#222" stroke-width="0.32">Repressed</text>
<line x1="450.5" y1="306.5" x2="450.5" y2="326.5" stroke="#333" stroke-width="1.1"/>
<text transform="translate(454.40,298.01) rotate(90)" font-size="8.2" textLength="33.48" lengthAdjust="spacingAndGlyphs" fill="#222" stroke="#222" stroke-width="0.32">Activated</text>
<defs><linearGradient id="cb" x1="0" y1="0" x2="0" y2="1"><stop offset="0" stop-color="#ebe128"/><stop offset="0.22" stop-color="#f0e83c"/><stop offset="0.29" stop-color="#f5f096"/><stop offset="0.41" stop-color="#faf8d7"/><stop offset="0.53" stop-color="#fcfcfc"/><stop offset="0.62" stop-color="#bebee6"/><stop offset="0.68" stop-color="#969bd7"/><stop offset="0.77" stop-color="#5a69be"/><stop offset="0.92" stop-color="#3246a0"/><stop offset="1" stop-color="#283c96"/></linearGradient></defs>
<rect x="474.4" y="232" width="8.8" height="4.05" fill="#eee916"/>
<rect x="474.4" y="236" width="8.8" height="4.05" fill="#f0ec2d"/>
<rect x="474.4" y="240" width="8.8" height="6.05" fill="#f0ef3c"/>
<rect x="474.4" y="246" width="8.8" height="3.05" fill="#f2f364"/>
<rect x="474.4" y="249" width="8.8" height="6.05" fill="#f6f896"/>
<rect x="474.4" y="255" width="8.8" height="3.05" fill="#faf9cd"/>
<rect x="474.4" y="258" width="8.8" height="8.05" fill="#fdfdfd"/>
<rect x="474.4" y="266" width="8.8" height="2.55" fill="#b9b9d4"/>
<rect x="474.4" y="268.5" width="8.8" height="5.55" fill="#b6b6e6"/>
<rect x="474.4" y="274" width="8.8" height="5.05" fill="#5f6cc0"/>
<rect x="474.4" y="279" width="8.8" height="5.05" fill="#4860ba"/>
<rect x="474.4" y="284" width="8.8" height="7.75" fill="#324baa"/>
<rect x="474.6" y="232.2" width="8.5" height="59.2" fill="none" stroke="#1a1a1a" stroke-width="1.1"/>
<text x="469.50" y="221.2" font-size="8.3" textLength="28.20" lengthAdjust="spacingAndGlyphs" fill="#222" stroke="#222" stroke-width="0.32">Induced</text>
<text x="463.90" y="303" font-size="8.3" textLength="38.50" lengthAdjust="spacingAndGlyphs" fill="#222" stroke="#222" stroke-width="0.32">Repressed</text>
<text x="79.41" y="399.6" font-size="9.8" textLength="47.38" lengthAdjust="spacingAndGlyphs" fill="#222" stroke="#222" stroke-width="0.32" font-style="italic">TMPRSS2</text>
<rect x="70.83" y="444.00" width="0.75" height="6.00" fill="#373e69"/>
<rect x="78.92" y="446.50" width="0.75" height="3.50" fill="#373e69"/>
<rect x="85.62" y="446.50" width="0.75" height="3.50" fill="#373e69"/>
<rect x="90.62" y="446.50" width="0.75" height="3.50" fill="#373e69"/>
<rect x="93.12" y="447.80" width="0.75" height="2.20" fill="#373e69"/>
<rect x="99.62" y="442.70" width="0.75" height="7.30" fill="#373e69"/>
<rect x="103.62" y="447.00" width="0.75" height="3.00" fill="#373e69"/>
<rect x="107.62" y="448.00" width="0.75" height="2.00" fill="#373e69"/>
<rect x="111.92" y="446.50" width="0.75" height="3.50" fill="#373e69"/>
<rect x="115.62" y="448.00" width="0.75" height="2.00" fill="#373e69"/>
<rect x="119.33" y="446.00" width="0.75" height="4.00" fill="#373e69"/>
<rect x="123.53" y="440.50" width="0.75" height="9.50" fill="#373e69"/>
<rect x="127.62" y="448.00" width="0.75" height="2.00" fill="#373e69"/>
<rect x="130.62" y="447.50" width="0.75" height="2.50" fill="#373e69"/>
<rect x="136.22" y="443.20" width="0.75" height="6.80" fill="#373e69"/>
<rect x="74.62" y="448.50" width="0.75" height="1.50" fill="#373e69"/>
<rect x="82.62" y="448.20" width="0.75" height="1.80" fill="#373e69"/>
<rect x="96.62" y="448.30" width="0.75" height="1.70" fill="#373e69"/>
<line x1="66" y1="449.5" x2="140.6" y2="449.5" stroke="#3a4270" stroke-width="0.9"/>
<rect x="66" y="488.5" width="2.20" height="9.70" fill="#24429e"/>
<rect x="70" y="487.5" width="3.20" height="10.70" fill="#24429e"/>
<rect x="75.6" y="487.5" width="4.00" height="10.70" fill="#24429e"/>
<rect x="81.6" y="487.7" width="1.40" height="10.50" fill="#24429e"/>
<rect x="113" y="487.7" width="4.20" height="10.50" fill="#24429e"/>
<rect x="65.90" y="486.00" width="1.4" height="12.20" fill="#a5b0e0"/>
<rect x="65.90" y="488.50" width="1.4" height="9.70" fill="#24429e"/>
<rect x="68.40" y="463.40" width="0.8" height="34.80" fill="#a5b0e0"/>
<rect x="68.40" y="476.00" width="0.8" height="22.20" fill="#4e68ba"/>
<rect x="69.20" y="470.00" width="0.8" height="28.20" fill="#a5b0e0"/>
<rect x="69.20" y="480.00" width="0.8" height="18.20" fill="#4e68ba"/>
<rect x="70.00" y="476.00" width="0.8" height="22.20" fill="#a5b0e0"/>
<rect x="70.00" y="481.00" width="0.8" height="17.20" fill="#4e68ba"/>
<rect x="70.80" y="470.00" width="0.8" height="28.20" fill="#a5b0e0"/>
<rect x="70.80" y="478.00" width="0.8" height="20.20" fill="#4e68ba"/>
<rect x="71.60" y="468.00" width="0.8" height="30.20" fill="#a5b0e0"/>
<rect x="71.60" y="481.00" width="0.8" height="17.20" fill="#4e68ba"/>
<rect x="72.40" y="474.00" width="0.8" height="24.20" fill="#a5b0e0"/>
<rect x="72.40" y="478.00" width="0.8" height="20.20" fill="#4e68ba"/>
<rect x="73.20" y="478.00" width="0.8" height="20.20" fill="#a5b0e0"/>
<rect x="73.20" y="486.00" width="0.8" height="12.20" fill="#a5b0e0"/>
<rect x="74.00" y="471.00" width="0.8" height="27.20" fill="#a5b0e0"/>
<rect x="74.00" y="490.00" width="0.8" height="8.20" fill="#a5b0e0"/>
<rect x="74.90" y="469.50" width="0.8" height="28.70" fill="#a5b0e0"/>
<rect x="74.90" y="477.00" width="0.8" height="21.20" fill="#4e68ba"/>
<rect x="75.70" y="463.00" width="0.8" height="35.20" fill="#a5b0e0"/>
<rect x="75.70" y="476.00" width="0.8" height="22.20" fill="#4e68ba"/>
<rect x="76.50" y="470.00" width="0.8" height="28.20" fill="#a5b0e0"/>
<rect x="76.50" y="476.00" width="0.8" height="22.20" fill="#4e68ba"/>
<rect x="77.30" y="474.00" width="0.8" height="24.20" fill="#a5b0e0"/>
<rect x="77.30" y="477.00" width="0.8" height="21.20" fill="#4e68ba"/>
<rect x="78.10" y="468.00" width="0.8" height="30.20" fill="#a5b0e0"/>
<rect x="78.10" y="476.50" width="0.8" height="21.70" fill="#4e68ba"/>
<rect x="78.90" y="476.00" width="0.8" height="22.20" fill="#a5b0e0"/>
<rect x="78.90" y="480.00" width="0.8" height="18.20" fill="#4e68ba"/>
<rect x="80.00" y="472.00" width="0.8" height="26.20" fill="#a5b0e0"/>
<rect x="80.00" y="492.00" width="0.8" height="6.20" fill="#a5b0e0"/>
<rect x="81.05" y="455.70" width="0.9" height="42.50" fill="#a5b0e0"/>
<rect x="81.05" y="466.00" width="0.9" height="32.20" fill="#4e68ba"/>
<rect x="81.85" y="463.40" width="0.9" height="34.80" fill="#a5b0e0"/>
<rect x="81.85" y="463.40" width="0.9" height="34.80" fill="#4e68ba"/>
<rect x="84.15" y="477.00" width="0.9" height="21.20" fill="#a5b0e0"/>
<rect x="84.15" y="486.00" width="0.9" height="12.20" fill="#a5b0e0"/>
<rect x="85.15" y="474.00" width="0.9" height="24.20" fill="#a5b0e0"/>
<rect x="85.15" y="488.00" width="0.9" height="10.20" fill="#a5b0e0"/>
<rect x="86.70" y="476.50" width="1.0" height="21.70" fill="#a5b0e0"/>
<rect x="86.70" y="483.00" width="1.0" height="15.20" fill="#4e68ba"/>
<rect x="90.50" y="482.60" width="1.0" height="15.60" fill="#a5b0e0"/>
<rect x="90.50" y="486.00" width="1.0" height="12.20" fill="#4e68ba"/>
<rect x="89.80" y="486.00" width="0.8" height="12.20" fill="#a5b0e0"/>
<rect x="89.80" y="490.00" width="0.8" height="8.20" fill="#a5b0e0"/>
<rect x="93.20" y="488.00" width="1.0" height="10.20" fill="#a5b0e0"/>
<rect x="93.20" y="491.00" width="1.0" height="7.20" fill="#a5b0e0"/>
<rect x="96.50" y="481.80" width="1.0" height="16.40" fill="#a5b0e0"/>
<rect x="96.50" y="488.00" width="1.0" height="10.20" fill="#a5b0e0"/>
<rect x="100.00" y="486.00" width="1.0" height="12.20" fill="#a5b0e0"/>
<rect x="100.00" y="491.00" width="1.0" height="7.20" fill="#a5b0e0"/>
<rect x="103.10" y="489.00" width="1.0" height="9.20" fill="#a5b0e0"/>
<rect x="103.10" y="491.00" width="1.0" height="7.20" fill="#4e68ba"/>
<rect x="106.00" y="482.00" width="1.0" height="16.20" fill="#a5b0e0"/>
<rect x="106.00" y="485.00" width="1.0" height="13.20" fill="#4e68ba"/>
<rect x="109.00" y="480.00" width="1.0" height="18.20" fill="#a5b0e0"/>
<rect x="109.00" y="484.00" width="1.0" height="14.20" fill="#4e68ba"/>
<rect x="114.05" y="468.00" width="0.9" height="30.20" fill="#a5b0e0"/>
<rect x="114.05" y="472.00" width="0.9" height="26.20" fill="#a5b0e0"/>
<rect x="116.10" y="475.00" width="1.0" height="23.20" fill="#a5b0e0"/>
<rect x="116.10" y="480.00" width="1.0" height="18.20" fill="#4e68ba"/>
<rect x="120.50" y="489.00" width="1.0" height="9.20" fill="#a5b0e0"/>
<rect x="120.50" y="491.00" width="1.0" height="7.20" fill="#a5b0e0"/>
<rect x="125.00" y="475.40" width="1.0" height="22.80" fill="#a5b0e0"/>
<rect x="125.00" y="482.00" width="1.0" height="16.20" fill="#a5b0e0"/>
<rect x="124.15" y="488.00" width="0.9" height="10.20" fill="#a5b0e0"/>
<rect x="124.15" y="491.00" width="0.9" height="7.20" fill="#a5b0e0"/>
<rect x="125.95" y="486.00" width="0.9" height="12.20" fill="#a5b0e0"/>
<rect x="125.95" y="490.00" width="0.9" height="8.20" fill="#a5b0e0"/>
<rect x="128.10" y="480.30" width="1.0" height="17.90" fill="#a5b0e0"/>
<rect x="128.10" y="484.00" width="1.0" height="14.20" fill="#4e68ba"/>
<rect x="132.00" y="482.70" width="1.0" height="15.50" fill="#a5b0e0"/>
<rect x="132.00" y="487.00" width="1.0" height="11.20" fill="#a5b0e0"/>
<rect x="133.50" y="488.50" width="1.0" height="9.70" fill="#a5b0e0"/>
<rect x="133.50" y="491.00" width="1.0" height="7.20" fill="#a5b0e0"/>
<rect x="136.05" y="488.00" width="0.9" height="10.20" fill="#a5b0e0"/>
<rect x="136.05" y="491.00" width="0.9" height="7.20" fill="#a5b0e0"/>
<rect x="137.05" y="486.00" width="0.9" height="12.20" fill="#a5b0e0"/>
<rect x="137.05" y="491.00" width="0.9" height="7.20" fill="#a5b0e0"/>
<rect x="138.05" y="475.80" width="1.1" height="22.40" fill="#a5b0e0"/>
<rect x="138.05" y="478.00" width="1.1" height="20.20" fill="#24429e"/>
<rect x="111.05" y="488.00" width="0.9" height="10.20" fill="#a5b0e0"/>
<rect x="111.05" y="492.00" width="0.9" height="6.20" fill="#a5b0e0"/>
<rect x="118.55" y="490.00" width="0.9" height="8.20" fill="#a5b0e0"/>
<rect x="118.55" y="492.00" width="0.9" height="6.20" fill="#a5b0e0"/>
<rect x="88.55" y="489.00" width="0.9" height="9.20" fill="#a5b0e0"/>
<rect x="88.55" y="492.00" width="0.9" height="6.20" fill="#a5b0e0"/>
<rect x="94.85" y="490.00" width="0.9" height="8.20" fill="#a5b0e0"/>
<rect x="94.85" y="493.00" width="0.9" height="5.20" fill="#a5b0e0"/>
<rect x="130.05" y="489.00" width="0.9" height="9.20" fill="#a5b0e0"/>
<rect x="130.05" y="492.00" width="0.9" height="6.20" fill="#a5b0e0"/>
<rect x="122.55" y="490.00" width="0.9" height="8.20" fill="#a5b0e0"/>
<rect x="122.55" y="493.00" width="0.9" height="5.20" fill="#a5b0e0"/>
<rect x="139.55" y="489.00" width="0.9" height="9.20" fill="#a5b0e0"/>
<rect x="139.55" y="491.00" width="0.9" height="7.20" fill="#4e68ba"/>
<path d="M65.60,544.2 L66.40,528.30 L67.20,544.2 Z" fill="#2846a5"/>
<path d="M67.00,544.2 L68.00,537.50 L69.00,544.2 Z" fill="#2846a5"/>
<path d="M68.70,544.2 L69.60,538.00 L70.50,544.2 Z" fill="#2846a5"/>
<path d="M70.50,544.2 L71.50,537.00 L72.50,544.2 Z" fill="#2846a5"/>
<path d="M72.60,544.2 L73.50,538.50 L74.40,544.2 Z" fill="#2846a5"/>
<path d="M73.80,544.2 L74.60,537.00 L75.40,544.2 Z" fill="#2846a5"/>
<path d="M75.50,544.2 L76.50,540.00 L77.50,544.2 Z" fill="#2846a5"/>
<path d="M77.30,544.2 L78.30,539.50 L79.30,544.2 Z" fill="#2846a5"/>
<path d="M79.20,544.2 L80.50,531.00 L81.80,544.2 Z" fill="#2846a5"/>
<path d="M80.50,544.2 L81.50,528.30 L82.50,544.2 Z" fill="#2846a5"/>
<path d="M81.30,544.2 L82.50,534.00 L83.70,544.2 Z" fill="#2846a5"/>
<path d="M83.60,544.2 L84.50,536.00 L85.40,544.2 Z" fill="#2846a5"/>
<path d="M82.10,544.2 L83.30,538.00 L84.50,544.2 Z" fill="#2846a5"/>
<path d="M85.50,544.2 L86.50,541.00 L87.50,544.2 Z" fill="#788ccd"/>
<path d="M87.50,544.2 L88.50,542.00 L89.50,544.2 Z" fill="#788ccd"/>
<path d="M89.60,544.2 L90.50,541.50 L91.40,544.2 Z" fill="#788ccd"/>
<path d="M91.50,544.2 L92.50,542.50 L93.50,544.2 Z" fill="#788ccd"/>
<path d="M94.00,544.2 L95.00,541.80 L96.00,544.2 Z" fill="#788ccd"/>
<path d="M96.60,544.2 L97.50,542.20 L98.40,544.2 Z" fill="#788ccd"/>
<path d="M98.50,544.2 L99.50,541.50 L100.50,544.2 Z" fill="#788ccd"/>
<path d="M102.00,544.2 L103.00,538.00 L104.00,544.2 Z" fill="#2846a5"/>
<path d="M105.00,544.2 L106.00,538.30 L107.00,544.2 Z" fill="#2846a5"/>
<path d="M107.50,544.2 L108.50,541.00 L109.50,544.2 Z" fill="#788ccd"/>
<path d="M109.50,544.2 L110.50,541.50 L111.50,544.2 Z" fill="#788ccd"/>
<path d="M111.60,544.2 L113.20,525.00 L114.80,544.2 Z" fill="#2846a5"/>
<path d="M113.00,544.2 L114.00,513.80 L115.00,544.2 Z" fill="#2846a5"/>
<path d="M113.80,544.2 L115.30,522.00 L116.80,544.2 Z" fill="#2846a5"/>
<path d="M115.50,544.2 L116.50,514.00 L117.50,544.2 Z" fill="#2846a5"/>
<path d="M116.20,544.2 L117.20,528.00 L118.20,544.2 Z" fill="#2846a5"/>
<path d="M112.30,544.2 L114.90,530.00 L117.50,544.2 Z" fill="#2846a5"/>
<path d="M118.00,544.2 L119.00,538.00 L120.00,544.2 Z" fill="#2846a5"/>
<path d="M120.00,544.2 L121.00,541.50 L122.00,544.2 Z" fill="#788ccd"/>
<path d="M122.00,544.2 L123.00,541.00 L124.00,544.2 Z" fill="#788ccd"/>
<path d="M125.30,544.2 L126.30,528.00 L127.30,544.2 Z" fill="#2846a5"/>
<path d="M126.30,544.2 L127.30,530.00 L128.30,544.2 Z" fill="#2846a5"/>
<path d="M127.30,544.2 L128.30,528.30 L129.30,544.2 Z" fill="#2846a5"/>
<path d="M128.30,544.2 L129.20,532.00 L130.10,544.2 Z" fill="#2846a5"/>
<path d="M124.90,544.2 L127.50,534.00 L130.10,544.2 Z" fill="#2846a5"/>
<path d="M130.00,544.2 L131.00,541.00 L132.00,544.2 Z" fill="#788ccd"/>
<path d="M132.20,544.2 L133.20,540.00 L134.20,544.2 Z" fill="#788ccd"/>
<path d="M134.30,544.2 L135.30,533.00 L136.30,544.2 Z" fill="#2846a5"/>
<path d="M135.20,544.2 L136.20,530.00 L137.20,544.2 Z" fill="#2846a5"/>
<path d="M136.10,544.2 L137.10,528.30 L138.10,544.2 Z" fill="#2846a5"/>
<path d="M137.10,544.2 L138.10,529.50 L139.10,544.2 Z" fill="#2846a5"/>
<path d="M134.20,544.2 L136.80,534.00 L139.40,544.2 Z" fill="#2846a5"/>
<path d="M138.90,544.2 L139.80,539.00 L140.70,544.2 Z" fill="#2846a5"/>
<rect x="125.6" y="533" width="4.00" height="11.20" fill="#2846a5"/>
<rect x="134.8" y="533" width="4.20" height="11.20" fill="#2846a5"/>
<rect x="66" y="542.6" width="74.6" height="1.6" fill="#788ccd"/>
<rect x="65.8" y="408.5" width="75.0" height="169.6" fill="none" stroke="#444" stroke-width="1.2"/>
<line x1="65.8" y1="450.5" x2="140.8" y2="450.5" stroke="#333" stroke-width="1.2"/>
<line x1="65.8" y1="498.5" x2="140.8" y2="498.5" stroke="#333" stroke-width="1.2"/>
<line x1="65.8" y1="544.5" x2="140.8" y2="544.5" stroke="#333" stroke-width="1.2"/>
<text x="68.03" y="417.0" font-size="7.8" textLength="23.94" lengthAdjust="spacingAndGlyphs" fill="#222" stroke="#222" stroke-width="0.32">CtBP2</text>
<text x="103.01" y="421.6" font-size="8.2" textLength="29.78" lengthAdjust="spacingAndGlyphs" fill="#222" stroke="#222" stroke-width="0.32">DHT (–)</text>
<text x="102.71" y="463.0" font-size="8.2" textLength="29.28" lengthAdjust="spacingAndGlyphs" fill="#222" stroke="#222" stroke-width="0.32">DHT (+)</text>
<text x="68.51" y="509.5" font-size="8.2" textLength="11.78" lengthAdjust="spacingAndGlyphs" fill="#222" stroke="#222" stroke-width="0.32">AR</text>
<text x="102.71" y="510.5" font-size="8.2" textLength="29.28" lengthAdjust="spacingAndGlyphs" fill="#222" stroke="#222" stroke-width="0.32">DHT (+)</text>
<line x1="65.8" y1="563" x2="83.6" y2="563" stroke="#333" stroke-width="1.2"/>
<line x1="66.8" y1="560.2" x2="66.8" y2="565.6" stroke="#555" stroke-width="0.8"/>
<line x1="72.4" y1="560.2" x2="72.4" y2="565.6" stroke="#555" stroke-width="0.8"/>
<line x1="77.1" y1="560.2" x2="77.1" y2="565.6" stroke="#555" stroke-width="0.8"/>
<line x1="81.9" y1="560.2" x2="81.9" y2="565.6" stroke="#555" stroke-width="0.8"/>
<line x1="83.5" y1="557.8" x2="83.5" y2="567.3" stroke="#666" stroke-width="0.9"/>
<path d="M80.4,572.1 H67.2" stroke="#111" stroke-width="1.7" fill="none"/>
<path d="M72.9,568.2 L66.8,572.1 L72.9,576" stroke="#111" stroke-width="1.6" fill="none"/>
<path d="M105.5,598.3 H123.8" stroke="#222" stroke-width="1.0" fill="none"/>
<path d="M110.8,594.9 L105.2,598.3 L110.8,601.9 M118.3,594.9 L124.1,598.3 L118.3,601.9" stroke="#1a1a1a" stroke-width="1.35" fill="none"/>
<text x="111.81" y="617.8" font-size="8.2" textLength="19.78" lengthAdjust="spacingAndGlyphs" fill="#222" stroke="#222" stroke-width="0.32">10 kb</text>
<text x="183.39" y="352.6" font-size="10.2" textLength="49.72" lengthAdjust="spacingAndGlyphs" fill="#222" stroke="#222" stroke-width="0.32">ChIP AcH3</text>
<line x1="187.5" y1="363.8" x2="187.5" y2="421.8" stroke="#333" stroke-width="1"/>
<line x1="184.39999999999998" y1="363.5" x2="187.2" y2="363.5" stroke="#333" stroke-width="1"/>
<text x="182.55" y="367.17" font-size="7.6" text-anchor="end" fill="#222" stroke="#222" stroke-width="0.32">15</text>
<line x1="184.39999999999998" y1="383.5" x2="187.2" y2="383.5" stroke="#333" stroke-width="1"/>
<text x="182.55" y="386.52" font-size="7.6" text-anchor="end" fill="#222" stroke="#222" stroke-width="0.32">10</text>
<line x1="184.39999999999998" y1="402.5" x2="187.2" y2="402.5" stroke="#333" stroke-width="1"/>
<text x="182.55" y="405.87" font-size="7.6" text-anchor="end" fill="#222" stroke="#222" stroke-width="0.32">5</text>
<line x1="184.39999999999998" y1="421.5" x2="187.2" y2="421.5" stroke="#333" stroke-width="1"/>
<text x="182.55" y="425.22" font-size="7.6" text-anchor="end" fill="#222" stroke="#222" stroke-width="0.32">0</text>
<line x1="187.2" y1="421.5" x2="247.5" y2="421.5" stroke="#333" stroke-width="1"/>
<rect x="193.9" y="386.696" width="6.400000000000006" height="35.103999999999985" fill="#fff" stroke="#222" stroke-width="1.0"/>
<line x1="209.5" y1="371.49" x2="209.5" y2="371.877" stroke="#333" stroke-width="0.9"/>
<line x1="206.90000000000003" y1="371.5" x2="211.3" y2="371.5" stroke="#333" stroke-width="1.0"/>
<rect x="205.4" y="371.877" width="7.400000000000006" height="49.923" fill="#111" stroke="#111" stroke-width="0.6"/>
<rect x="225.9" y="401.9825" width="6.199999999999989" height="19.817499999999995" fill="#fff" stroke="#222" stroke-width="1.0"/>
<line x1="241.5" y1="407.2875" x2="241.5" y2="409.9965" stroke="#333" stroke-width="0.9"/>
<line x1="238.8" y1="407.5" x2="243.2" y2="407.5" stroke="#333" stroke-width="1.0"/>
<rect x="237.4" y="409.9965" width="7.199999999999989" height="11.803499999999985" fill="#111" stroke="#111" stroke-width="0.6"/>
<path d="M206.5,360.5 H235.5 V383.5" stroke="#333" stroke-width="1.0" fill="none"/>
<text x="233.04" y="396.8" font-size="11" textLength="4.72" lengthAdjust="spacingAndGlyphs" fill="#333" stroke="#333" stroke-width="0.32" font-weight="bold">*</text>
<text x="187.97" y="431.1" font-size="7.2" textLength="26.76" lengthAdjust="spacingAndGlyphs" fill="#222" stroke="#222" stroke-width="0.32">siControl</text>
<text x="221.57" y="431.1" font-size="7.2" textLength="26.86" lengthAdjust="spacingAndGlyphs" fill="#222" stroke="#222" stroke-width="0.32">siCTBP2</text>
<text x="230.07" y="439.5" font-size="7.2" textLength="7.86" lengthAdjust="spacingAndGlyphs" fill="#222" stroke="#222" stroke-width="0.32">#2</text>
<text transform="translate(168.20,419.06) rotate(-90)" font-size="7.6" textLength="57.91" lengthAdjust="spacingAndGlyphs" fill="#222" stroke="#222" stroke-width="0.32">Fold enrichment</text>
<text x="181.19" y="462.5" font-size="10.2" textLength="69.42" lengthAdjust="spacingAndGlyphs" fill="#222" stroke="#222" stroke-width="0.32">ChIP H3K9me2</text>
<line x1="188.5" y1="473.1" x2="188.5" y2="533.8" stroke="#333" stroke-width="1"/>
<line x1="185.5" y1="472.5" x2="188.3" y2="472.5" stroke="#333" stroke-width="1"/>
<text x="183.95" y="476.42" font-size="7.6" text-anchor="end" fill="#222" stroke="#222" stroke-width="0.32">2</text>
<line x1="185.5" y1="488.5" x2="188.3" y2="488.5" stroke="#333" stroke-width="1"/>
<text x="183.95" y="491.62" font-size="7.6" text-anchor="end" fill="#222" stroke="#222" stroke-width="0.32">1.5</text>
<line x1="185.5" y1="503.5" x2="188.3" y2="503.5" stroke="#333" stroke-width="1"/>
<text x="183.95" y="506.82" font-size="7.6" text-anchor="end" fill="#222" stroke="#222" stroke-width="0.32">1</text>
<line x1="185.5" y1="518.5" x2="188.3" y2="518.5" stroke="#333" stroke-width="1"/>
<text x="183.95" y="522.02" font-size="7.6" text-anchor="end" fill="#222" stroke="#222" stroke-width="0.32">0.5</text>
<line x1="185.5" y1="533.5" x2="188.3" y2="533.5" stroke="#333" stroke-width="1"/>
<text x="183.95" y="537.22" font-size="7.6" text-anchor="end" fill="#222" stroke="#222" stroke-width="0.32">0</text>
<line x1="188.3" y1="533.5" x2="245.6" y2="533.5" stroke="#333" stroke-width="1"/>
<line x1="197.5" y1="478.77599999999995" x2="197.5" y2="490.328" stroke="#333" stroke-width="0.9"/>
<line x1="195.60000000000002" y1="478.5" x2="200.0" y2="478.5" stroke="#333" stroke-width="1.0"/>
<rect x="194.8" y="490.828" width="6.0" height="42.97199999999998" fill="#fff" stroke="#222" stroke-width="1.0"/>
<line x1="209.5" y1="516.472" x2="209.5" y2="518.5999999999999" stroke="#333" stroke-width="0.9"/>
<line x1="206.90000000000003" y1="516.5" x2="211.3" y2="516.5" stroke="#333" stroke-width="1.0"/>
<rect x="205.8" y="518.5999999999999" width="6.599999999999994" height="15.200000000000045" fill="#111" stroke="#111" stroke-width="0.6"/>
<line x1="228.5" y1="507.96" x2="228.5" y2="508.26399999999995" stroke="#333" stroke-width="0.9"/>
<line x1="225.9" y1="507.5" x2="230.29999999999998" y2="507.5" stroke="#333" stroke-width="1.0"/>
<rect x="225.1" y="508.76399999999995" width="6.0" height="25.036" fill="#fff" stroke="#222" stroke-width="1.0"/>
<rect x="236.2" y="510.39199999999994" width="6.600000000000023" height="23.408000000000015" fill="#111" stroke="#111" stroke-width="0.6"/>
<line x1="205.4" y1="501.5" x2="233" y2="501.5" stroke="#333" stroke-width="1.0"/>
<text x="218.84" y="499.8" font-size="11" textLength="4.72" lengthAdjust="spacingAndGlyphs" fill="#333" stroke="#333" stroke-width="0.32" font-weight="bold">*</text>
<text x="190.17" y="542.5" font-size="7.2" textLength="26.26" lengthAdjust="spacingAndGlyphs" fill="#222" stroke="#222" stroke-width="0.32">siControl</text>
<text x="221.87" y="542.5" font-size="7.2" textLength="26.56" lengthAdjust="spacingAndGlyphs" fill="#222" stroke="#222" stroke-width="0.32">siCTBP2</text>
<text x="230.37" y="549.8" font-size="7.2" textLength="7.66" lengthAdjust="spacingAndGlyphs" fill="#222" stroke="#222" stroke-width="0.32">#2</text>
<text transform="translate(168.20,529.56) rotate(-90)" font-size="7.6" textLength="58.01" lengthAdjust="spacingAndGlyphs" fill="#222" stroke="#222" stroke-width="0.32">Fold enrichment</text>
<text x="183.19" y="573.4" font-size="10.2" textLength="69.72" lengthAdjust="spacingAndGlyphs" fill="#222" stroke="#222" stroke-width="0.32">ChIP H3K4me2</text>
<line x1="189.5" y1="587" x2="189.5" y2="644.4" stroke="#333" stroke-width="1"/>
<line x1="186.8" y1="587.5" x2="189.4" y2="587.5" stroke="#333" stroke-width="1"/>
<text x="185.35" y="590.42" font-size="7.6" text-anchor="end" fill="#222" stroke="#222" stroke-width="0.32">8</text>
<line x1="186.8" y1="601.5" x2="189.4" y2="601.5" stroke="#333" stroke-width="1"/>
<text x="185.35" y="604.77" font-size="7.6" text-anchor="end" fill="#222" stroke="#222" stroke-width="0.32">6</text>
<line x1="186.8" y1="615.5" x2="189.4" y2="615.5" stroke="#333" stroke-width="1"/>
<text x="185.35" y="619.12" font-size="7.6" text-anchor="end" fill="#222" stroke="#222" stroke-width="0.32">4</text>
<line x1="186.8" y1="630.5" x2="189.4" y2="630.5" stroke="#333" stroke-width="1"/>
<text x="185.35" y="633.47" font-size="7.6" text-anchor="end" fill="#222" stroke="#222" stroke-width="0.32">2</text>
<line x1="186.8" y1="644.5" x2="189.4" y2="644.5" stroke="#333" stroke-width="1"/>
<text x="185.35" y="647.82" font-size="7.6" text-anchor="end" fill="#222" stroke="#222" stroke-width="0.32">0</text>
<line x1="189.5" y1="644.5" x2="256.2" y2="644.5" stroke="#333" stroke-width="1"/>
<line x1="200.5" y1="610.5" x2="200.5" y2="616.5" stroke="#333" stroke-width="0.9"/>
<line x1="198.25" y1="610.5" x2="202.64999999999998" y2="610.5" stroke="#333" stroke-width="1.0"/>
<rect x="196.9" y="617.0" width="7.099999999999994" height="27.399999999999977" fill="#fff" stroke="#222" stroke-width="1.0"/>
<line x1="212.5" y1="601.5" x2="212.5" y2="607.1" stroke="#333" stroke-width="0.9"/>
<line x1="210.10000000000002" y1="601.5" x2="214.5" y2="601.5" stroke="#333" stroke-width="1.0"/>
<rect x="208.4" y="607.1" width="7.799999999999983" height="37.299999999999955" fill="#111" stroke="#111" stroke-width="0.6"/>
<line x1="233.5" y1="600.3" x2="233.5" y2="612.3" stroke="#333" stroke-width="0.9"/>
<line x1="231.25" y1="600.5" x2="235.64999999999998" y2="600.5" stroke="#333" stroke-width="1.0"/>
<rect x="229.7" y="612.8" width="7.5" height="31.600000000000023" fill="#fff" stroke="#222" stroke-width="1.0"/>
<line x1="245.5" y1="604.3" x2="245.5" y2="606.6" stroke="#333" stroke-width="0.9"/>
<line x1="243.4" y1="604.5" x2="247.79999999999998" y2="604.5" stroke="#333" stroke-width="1.0"/>
<rect x="241.5" y="606.6" width="8.199999999999989" height="37.799999999999955" fill="#111" stroke="#111" stroke-width="0.6"/>
<text x="219.40" y="590.6" font-size="10" textLength="17.40" lengthAdjust="spacingAndGlyphs" fill="#222" stroke="#222" stroke-width="0.32">N.S</text>
<text x="192.17" y="653.2" font-size="7.2" textLength="26.86" lengthAdjust="spacingAndGlyphs" fill="#222" stroke="#222" stroke-width="0.32">siControl</text>
<text x="225.37" y="653.2" font-size="7.2" textLength="26.36" lengthAdjust="spacingAndGlyphs" fill="#222" stroke="#222" stroke-width="0.32">siCTBP2</text>
<text x="234.07" y="661.3" font-size="7.2" textLength="7.66" lengthAdjust="spacingAndGlyphs" fill="#222" stroke="#222" stroke-width="0.32">#2</text>
<text transform="translate(171.60,644.66) rotate(-90)" font-size="7.6" textLength="59.61" lengthAdjust="spacingAndGlyphs" fill="#222" stroke="#222" stroke-width="0.32">Fold enrichment</text>
<rect x="192.0" y="670.5" width="4.0" height="4.0" fill="#fff" stroke="#222" stroke-width="1.1"/>
<text x="197.74" y="674.9" font-size="7.6" textLength="24.31" lengthAdjust="spacingAndGlyphs" fill="#222" stroke="#222" stroke-width="0.32">Vehicle</text>
<rect x="227.0" y="670.2" width="4.8" height="4.7" fill="#111"/>
<text x="232.14" y="674.9" font-size="7.6" textLength="15.91" lengthAdjust="spacingAndGlyphs" fill="#222" stroke="#222" stroke-width="0.32">DHT</text>
<defs><filter id="b1" x="-50%" y="-50%" width="200%" height="200%"><feGaussianBlur stdDeviation="0.9"/></filter><filter id="b2" x="-50%" y="-50%" width="200%" height="200%"><feGaussianBlur stdDeviation="1.6"/></filter></defs>
<text x="357.71" y="383.8" font-size="8.2" textLength="18.48" lengthAdjust="spacingAndGlyphs" fill="#222" stroke="#222" stroke-width="0.32">Input</text>
<line x1="342.3" y1="393.5" x2="389" y2="393.5" stroke="#222" stroke-width="1.2"/>
<text x="426.71" y="367.0" font-size="8.2" textLength="7.98" lengthAdjust="spacingAndGlyphs" fill="#222" stroke="#222" stroke-width="0.32">IP</text>
<line x1="399.2" y1="375.5" x2="458.2" y2="375.5" stroke="#222" stroke-width="1.2"/>
<text x="411.71" y="388.2" font-size="8.2" textLength="13.78" lengthAdjust="spacingAndGlyphs" fill="#222" stroke="#222" stroke-width="0.32">IgG</text>
<text x="446.51" y="388.2" font-size="8.2" textLength="12.48" lengthAdjust="spacingAndGlyphs" fill="#222" stroke="#222" stroke-width="0.32">AR</text>
<line x1="405.4" y1="396.5" x2="424.3" y2="396.5" stroke="#222" stroke-width="1.2"/>
<line x1="428.5" y1="396.5" x2="467.2" y2="396.5" stroke="#222" stroke-width="1.2"/>
<text transform="translate(340.8,430.8) rotate(-39)" font-size="8" fill="#222" stroke="#222" stroke-width="0.32">siControl</text>
<text transform="translate(414.8,432.0) rotate(-39)" font-size="8" fill="#222" stroke="#222" stroke-width="0.32">siControl</text>
<text transform="translate(365.8,426.8) rotate(-39)" font-size="8" fill="#222" stroke="#222" stroke-width="0.32">si<tspan font-style="italic">CTBP2</tspan></text>
<text transform="translate(377.3,428.0) rotate(-39)" font-size="8.2" fill="#222" stroke="#222" stroke-width="0.32" style="font-family:'Liberation Sans','Noto Sans CJK JP',sans-serif">＃2</text>
<text transform="translate(450.0,430.6) rotate(-39)" font-size="8" fill="#222" stroke="#222" stroke-width="0.32">si<tspan font-style="italic">CTBP2</tspan></text>
<text transform="translate(463.4,429.0) rotate(-39)" font-size="8.2" fill="#222" stroke="#222" stroke-width="0.32" style="font-family:'Liberation Sans','Noto Sans CJK JP',sans-serif">＃2</text>
<line x1="342.5" y1="435.5" x2="361.3" y2="435.5" stroke="#222" stroke-width="1.2"/>
<line x1="366.7" y1="435.5" x2="385.8" y2="435.5" stroke="#222" stroke-width="1.2"/>
<line x1="405.5" y1="436.5" x2="442.7" y2="436.5" stroke="#222" stroke-width="1.2"/>
<line x1="449.2" y1="436.5" x2="468" y2="436.5" stroke="#222" stroke-width="1.2"/>
<text x="319.51" y="447.0" font-size="8.2" textLength="16.78" lengthAdjust="spacingAndGlyphs" fill="#222" stroke="#222" stroke-width="0.32">DHT</text>
<text x="348.3" y="446" font-size="7.5" text-anchor="middle" stroke="#222" stroke-width="0.32" fill="#222">–</text>
<text x="360" y="446" font-size="7.5" text-anchor="middle" stroke="#222" stroke-width="0.32" fill="#222">+</text>
<text x="375" y="447" font-size="7.5" text-anchor="middle" stroke="#222" stroke-width="0.32" fill="#222">–</text>
<text x="385.5" y="447" font-size="7.5" text-anchor="middle" stroke="#222" stroke-width="0.32" fill="#222">+</text>
<text x="410.6" y="449.5" font-size="7.5" text-anchor="middle" stroke="#222" stroke-width="0.32" fill="#222">–</text>
<text x="418.8" y="449.5" font-size="7.5" text-anchor="middle" stroke="#222" stroke-width="0.32" fill="#222">+</text>
<text x="432.7" y="448.4" font-size="7.5" text-anchor="middle" stroke="#222" stroke-width="0.32" fill="#222">–</text>
<text x="441.2" y="448.4" font-size="7.5" text-anchor="middle" stroke="#222" stroke-width="0.32" fill="#222">+</text>
<text x="454.2" y="447.6" font-size="7.5" text-anchor="middle" stroke="#222" stroke-width="0.32" fill="#222">–</text>
<text x="465.5" y="447.3" font-size="7.5" text-anchor="middle" stroke="#222" stroke-width="0.32" fill="#222">+</text>
<text x="292.30" y="460.9" font-size="8.3" textLength="30.20" lengthAdjust="spacingAndGlyphs" fill="#222" stroke="#222" stroke-width="0.32">Blot: AR</text>
<text x="291.70" y="485.8" font-size="8.3" textLength="43.60" lengthAdjust="spacingAndGlyphs" fill="#222" stroke="#222" stroke-width="0.32">Blot: CTBP1</text>
<text x="291.50" y="511.9" font-size="8.3" textLength="44.90" lengthAdjust="spacingAndGlyphs" fill="#222" stroke="#222" stroke-width="0.32">Blot: CTBP2</text>
<text x="290.80" y="537.9" font-size="8.3" textLength="33.20" lengthAdjust="spacingAndGlyphs" fill="#222" stroke="#222" stroke-width="0.32">Blot: G9a</text>
<text x="290.80" y="563.3" font-size="8.3" textLength="44.70" lengthAdjust="spacingAndGlyphs" fill="#222" stroke="#222" stroke-width="0.32">Blot: HDAC1</text>
<text x="290.80" y="586.7" font-size="8.3" textLength="40.70" lengthAdjust="spacingAndGlyphs" fill="#222" stroke="#222" stroke-width="0.32">Blot: NCoR</text>
<text x="290.80" y="611.5" font-size="8.3" textLength="44.70" lengthAdjust="spacingAndGlyphs" fill="#222" stroke="#222" stroke-width="0.32">Blot: RIP140</text>
<text x="290.80" y="631.9" font-size="8.3" textLength="39.50" lengthAdjust="spacingAndGlyphs" fill="#222" stroke="#222" stroke-width="0.32">Blot: SRC1</text>
<rect x="342.6" y="453.5" width="48.4" height="14.300000000000011" fill="#f4f4f4"/>
<rect x="342.6" y="475.2" width="48.4" height="16.19999999999999" fill="#f2f2f2"/>
<rect x="342.6" y="500.2" width="48.4" height="20.000000000000057" fill="#eeeeee"/>
<rect x="342.6" y="526.7" width="48.4" height="15.0" fill="#e4e4e4"/>
<rect x="342.6" y="551.7" width="48.4" height="15.199999999999932" fill="#e6e6e6"/>
<rect x="342.6" y="578.2" width="48.4" height="17.59999999999991" fill="#e8e8e8"/>
<rect x="342.6" y="601.3" width="48.4" height="15.0" fill="#eeeeee"/>
<rect x="342.6" y="623.8" width="48.4" height="15.5" fill="#cfcfcf"/>
<rect x="404.6" y="454.2" width="67" height="12.800000000000011" fill="#f2f2f2"/>
<rect x="404.6" y="475.0" width="67" height="16.5" fill="#f7f7f7"/>
<rect x="404.6" y="501.0" width="67" height="20.5" fill="#f4f4f4"/>
<rect x="404.6" y="530.3" width="67" height="15.900000000000091" fill="#c4c4c4"/>
<rect x="404.6" y="551.8" width="67" height="16.700000000000045" fill="#f7f7f7"/>
<rect x="404.6" y="578.8" width="67" height="17.40000000000009" fill="#f4f4f4"/>
<rect x="404.6" y="602.3" width="67" height="14.900000000000091" fill="#e8e8e8"/>
<rect x="404.6" y="624.3" width="67" height="15.700000000000045" fill="#dcdcdc"/>
<rect x="345" y="459" width="8.80" height="3.30" rx="2" fill="#8e8e8e" filter="url(#b1)"/>
<rect x="356" y="456.8" width="9.40" height="6.00" rx="2" fill="#050505" filter="url(#b1)"/>
<rect x="367.8" y="459.2" width="9.20" height="3.10" rx="2" fill="#a0a0a0" filter="url(#b1)"/>
<rect x="379.4" y="455.8" width="9.30" height="5.60" rx="2" fill="#080808" filter="url(#b1)"/>
<rect x="343.8" y="479.8" width="10.20" height="5.00" rx="2" fill="#0a0a0a" filter="url(#b1)"/>
<rect x="357" y="481.6" width="9.00" height="3.80" rx="2" fill="#505050" filter="url(#b1)"/>
<rect x="367" y="479.8" width="12.00" height="5.20" rx="2" fill="#0a0a0a" filter="url(#b1)"/>
<rect x="379.5" y="478.6" width="10.50" height="5.00" rx="2" fill="#0a0a0a" filter="url(#b1)"/>
<ellipse cx="348.5" cy="511" rx="3.4" ry="2.4" fill="#c4c4c4" filter="url(#b2)"/>
<ellipse cx="357.5" cy="509.8" rx="2.8" ry="2.3" fill="#6a6a6a" filter="url(#b1)"/>
<rect x="343.5" y="534" width="10.50" height="2.80" rx="2" fill="#666" filter="url(#b1)"/>
<rect x="356" y="534.4" width="10.00" height="2.60" rx="2" fill="#999" filter="url(#b1)"/>
<rect x="367" y="534" width="11.50" height="3.00" rx="2" fill="#555" filter="url(#b1)"/>
<rect x="379" y="534" width="10.50" height="2.60" rx="2" fill="#777" filter="url(#b1)"/>
<rect x="343.5" y="557.2" width="46.50" height="6.20" rx="2" fill="#0a0a0a" filter="url(#b1)"/>
<rect x="344" y="553.3" width="10.00" height="2.00" rx="2" fill="#aaa" filter="url(#b1)"/>
<rect x="356" y="553.3" width="10.00" height="2.00" rx="2" fill="#999" filter="url(#b1)"/>
<rect x="367" y="553.6" width="11.00" height="2.00" rx="2" fill="#aaa" filter="url(#b1)"/>
<rect x="379" y="553.3" width="10.00" height="2.00" rx="2" fill="#999" filter="url(#b1)"/>
<ellipse cx="349" cy="588.6" rx="4.2" ry="3.8" fill="#a4a4a4" filter="url(#b2)"/>
<ellipse cx="360.7" cy="588.8" rx="4.2" ry="3.8" fill="#acacac" filter="url(#b2)"/>
<ellipse cx="372.5" cy="588.5" rx="4.5" ry="4.2" fill="#5e5e5e" filter="url(#b2)"/>
<ellipse cx="384" cy="589" rx="4.5" ry="4.2" fill="#525252" filter="url(#b2)"/>
<rect x="344" y="608.2" width="10.00" height="2.60" rx="2" fill="#6d6d6d" filter="url(#b1)"/>
<rect x="356" y="609" width="10.00" height="3.00" rx="2" fill="#2a2a2a" filter="url(#b1)"/>
<rect x="367" y="608" width="11.00" height="3.40" rx="2" fill="#1e1e1e" filter="url(#b1)"/>
<rect x="378.5" y="606.6" width="11.00" height="4.60" rx="2" fill="#111" filter="url(#b1)"/>
<rect x="344" y="628" width="10.50" height="6.00" rx="2" fill="#505050" filter="url(#b2)"/>
<rect x="356" y="628" width="10.00" height="6.00" rx="2" fill="#505050" filter="url(#b2)"/>
<rect x="367.5" y="628" width="10.00" height="6.20" rx="2" fill="#454545" filter="url(#b2)"/>
<rect x="379" y="628" width="10.50" height="6.00" rx="2" fill="#4a4a4a" filter="url(#b2)"/>
<rect x="427.4" y="458" width="10.40" height="5.70" rx="2" fill="#050505" filter="url(#b1)"/>
<rect x="438.7" y="455.2" width="8.90" height="11.00" rx="2" fill="#000" filter="url(#b1)"/>
<rect x="449" y="458.5" width="9.40" height="5.00" rx="2" fill="#050505" filter="url(#b1)"/>
<rect x="459.9" y="456.5" width="9.40" height="8.00" rx="2" fill="#050505" filter="url(#b1)"/>
<rect x="428" y="483" width="7.00" height="1.80" rx="2" fill="#c8c8c8" filter="url(#b1)"/>
<rect x="438" y="482.8" width="8.00" height="2.00" rx="2" fill="#999" filter="url(#b1)"/>
<rect x="449.5" y="482.8" width="7.50" height="2.20" rx="2" fill="#888" filter="url(#b1)"/>
<rect x="461" y="482.8" width="7.50" height="1.80" rx="2" fill="#bbb" filter="url(#b1)"/>
<rect x="404.6" y="501" width="18.90" height="6.20" rx="1" fill="#030303" filter="url(#b1)"/>
<rect x="424.2" y="503.8" width="11.10" height="3.80" rx="2" fill="#1a1a1a" filter="url(#b1)"/>
<rect x="424.2" y="507.6" width="11.30" height="7.40" rx="2" fill="#030303" filter="url(#b1)"/>
<rect x="437" y="504" width="9.50" height="3.50" rx="2" fill="#2a2a2a" filter="url(#b1)"/>
<rect x="437" y="507.5" width="9.50" height="6.50" rx="2" fill="#111" filter="url(#b1)"/>
<rect x="449.5" y="504.5" width="7.50" height="2.30" rx="2" fill="#bbb" filter="url(#b1)"/>
<rect x="449.5" y="511" width="7.50" height="2.60" rx="2" fill="#c4c4c4" filter="url(#b1)"/>
<rect x="460.5" y="504.5" width="8.50" height="2.50" rx="2" fill="#999" filter="url(#b1)"/>
<rect x="460.5" y="511" width="9.00" height="3.00" rx="2" fill="#888" filter="url(#b1)"/>
<ellipse cx="410.4" cy="538" rx="4" ry="5" fill="#c0c0c0" filter="url(#b2)"/>
<ellipse cx="431.2" cy="538.5" rx="4" ry="3" fill="#b4b4b4" filter="url(#b2)"/>
<ellipse cx="441.6" cy="538.5" rx="4" ry="3" fill="#bdbdbd" filter="url(#b2)"/>
<ellipse cx="453.2" cy="538" rx="4.2" ry="3" fill="#a4a4a4" filter="url(#b2)"/>
<ellipse cx="464.8" cy="537.5" rx="4.4" ry="6" fill="#1e1e1e" filter="url(#b2)"/>
<rect x="428" y="560.5" width="7.00" height="2.30" rx="2" fill="#d0d0d0" filter="url(#b1)"/>
<rect x="438" y="559.8" width="8.00" height="2.80" rx="2" fill="#999" filter="url(#b1)"/>
<rect x="449.5" y="560.6" width="7.50" height="2.40" rx="2" fill="#c8c8c8" filter="url(#b1)"/>
<rect x="460.5" y="559.8" width="8.50" height="3.70" rx="2" fill="#555" filter="url(#b1)"/>
<ellipse cx="431.2" cy="587" rx="3.8" ry="2.2" fill="#c4c4c4" filter="url(#b2)"/>
<ellipse cx="441.6" cy="586.5" rx="4" ry="2.3" fill="#959595" filter="url(#b2)"/>
<rect x="449.6" y="583.5" width="9.20" height="5.50" rx="2" fill="#1a1a1a" filter="url(#b1)"/>
<rect x="461.5" y="583.5" width="8.90" height="6.50" rx="2" fill="#1e1e1e" filter="url(#b1)"/>
<ellipse cx="414.5" cy="612.5" rx="1.2" ry="1.2" fill="#aaa" filter="url(#b1)"/>
<rect x="428" y="608.4" width="7.00" height="2.60" rx="2" fill="#c8c8c8" filter="url(#b1)"/>
<rect x="438" y="608.2" width="8.00" height="2.80" rx="2" fill="#a4a4a4" filter="url(#b1)"/>
<rect x="449.5" y="607.8" width="8.00" height="3.20" rx="2" fill="#959595" filter="url(#b1)"/>
<rect x="460.5" y="607" width="9.00" height="5.00" rx="2" fill="#505050" filter="url(#b1)"/>
<rect x="439.6" y="631.4" width="8.40" height="2.40" rx="2" fill="#1a1a1a" filter="url(#b1)"/>
<rect x="451" y="631.4" width="7.00" height="2.00" rx="2" fill="#666" filter="url(#b1)"/>
<rect x="461" y="631.6" width="8.60" height="2.40" rx="2" fill="#1a1a1a" filter="url(#b1)"/>
<ellipse cx="434" cy="632.5" rx="1.5" ry="0.8" fill="#999" filter="url(#b1)"/>
<rect x="342.6" y="453.5" width="48.4" height="14.300000000000011" fill="none" stroke="#2a2a2a" stroke-width="1.4"/>
<rect x="342.6" y="475.2" width="48.4" height="16.19999999999999" fill="none" stroke="#2a2a2a" stroke-width="1.4"/>
<rect x="342.6" y="500.2" width="48.4" height="20.000000000000057" fill="none" stroke="#2a2a2a" stroke-width="1.4"/>
<rect x="342.6" y="526.7" width="48.4" height="15.0" fill="none" stroke="#2a2a2a" stroke-width="1.4"/>
<rect x="342.6" y="551.7" width="48.4" height="15.199999999999932" fill="none" stroke="#2a2a2a" stroke-width="1.4"/>
<rect x="342.6" y="578.2" width="48.4" height="17.59999999999991" fill="none" stroke="#2a2a2a" stroke-width="1.4"/>
<rect x="342.6" y="601.3" width="48.4" height="15.0" fill="none" stroke="#2a2a2a" stroke-width="1.4"/>
<rect x="342.6" y="623.8" width="48.4" height="15.5" fill="none" stroke="#2a2a2a" stroke-width="1.4"/>
<rect x="404.6" y="454.2" width="67" height="12.800000000000011" fill="none" stroke="#2a2a2a" stroke-width="1.4"/>
<rect x="404.6" y="475.0" width="67" height="16.5" fill="none" stroke="#2a2a2a" stroke-width="1.4"/>
<rect x="404.6" y="501.0" width="67" height="20.5" fill="none" stroke="#2a2a2a" stroke-width="1.4"/>
<rect x="404.6" y="530.3" width="67" height="15.900000000000091" fill="none" stroke="#2a2a2a" stroke-width="1.4"/>
<rect x="404.6" y="551.8" width="67" height="16.700000000000045" fill="none" stroke="#2a2a2a" stroke-width="1.4"/>
<rect x="404.6" y="578.8" width="67" height="17.40000000000009" fill="none" stroke="#2a2a2a" stroke-width="1.4"/>
<rect x="404.6" y="602.3" width="67" height="14.900000000000091" fill="none" stroke="#2a2a2a" stroke-width="1.4"/>
<rect x="404.6" y="624.3" width="67" height="15.700000000000045" fill="none" stroke="#2a2a2a" stroke-width="1.4"/>
<rect x="0" y="1" width="520" height="1" fill="#bcbcbc"/>
<rect x="1" y="0" width="1" height="693" fill="#c4c4c4"/>
<rect x="518" y="0" width="1" height="693" fill="#b2b2b2"/>
<rect x="0" y="690" width="520" height="1" fill="#e4e4e4"/>
<rect x="0" y="0" width="520" height="1" fill="#6e6e6e"/>
<rect x="0" y="0" width="1" height="693" fill="#6e6e6e"/>
<rect x="519" y="0" width="1" height="693" fill="#6c6c6c"/>
<rect x="0" y="691" width="520" height="1" fill="#939393"/>
<rect x="0" y="692" width="520" height="1" fill="#a4a4a4"/>
</svg>
</body></html>
